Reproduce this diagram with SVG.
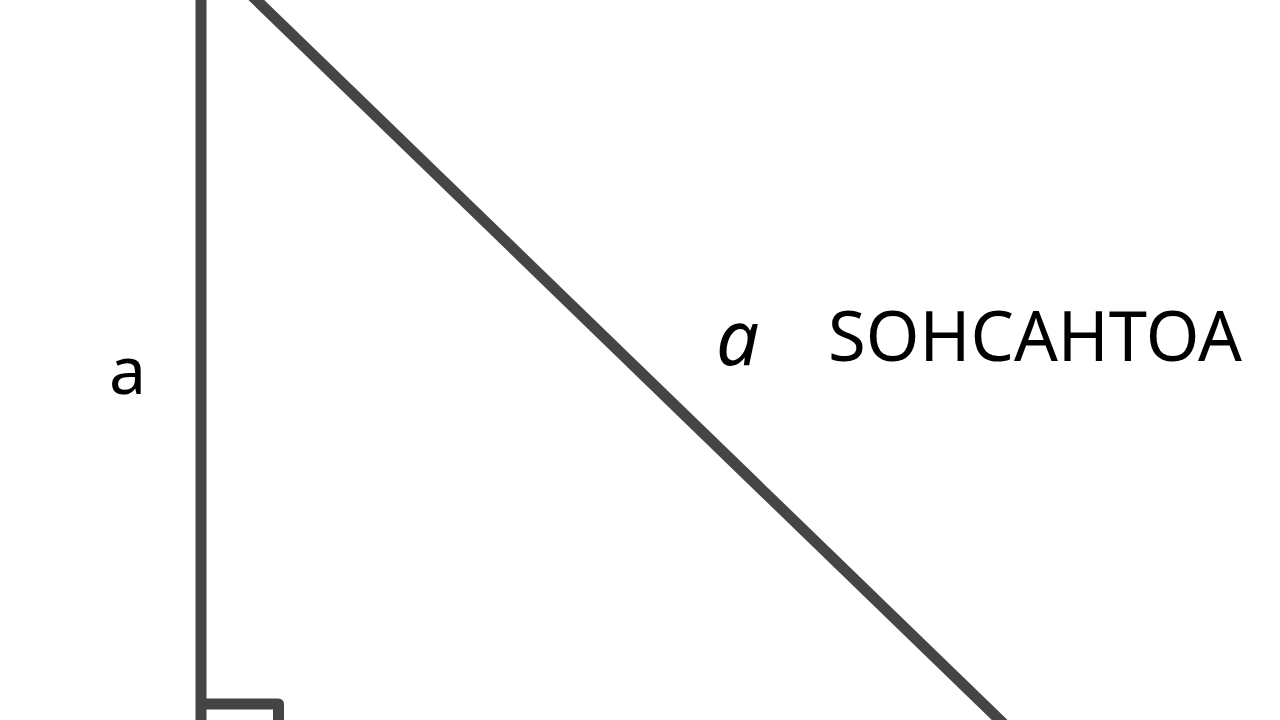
<svg xmlns="http://www.w3.org/2000/svg" width="1280" height="720" viewBox="0 0 1280 720">
<style>
.ln{stroke:#454545;stroke-width:11;fill:none;stroke-linejoin:round;stroke-linecap:butt}
.t{font-family:"Noto Sans","Open Sans",sans-serif;fill:#000}
</style>
<rect width="1280" height="720" fill="#fff"/>
<g id="triangle">
<line class="ln" x1="201" y1="-10" x2="201" y2="730"/>
<line class="ln" x1="246" y1="-10" x2="1010" y2="730"/>
<polyline class="ln" points="201,704 278.5,704 278.5,730"/>
</g>
<g id="labels">
<text class="t" x="109" y="394" font-size="66">a</text>
<text class="t" x="716" y="365" font-size="76" font-style="italic">a</text>
<text class="t" x="828" y="361" font-size="69" textLength="414" lengthAdjust="spacingAndGlyphs">SOHCAHTOA</text>
</g>
</svg>
